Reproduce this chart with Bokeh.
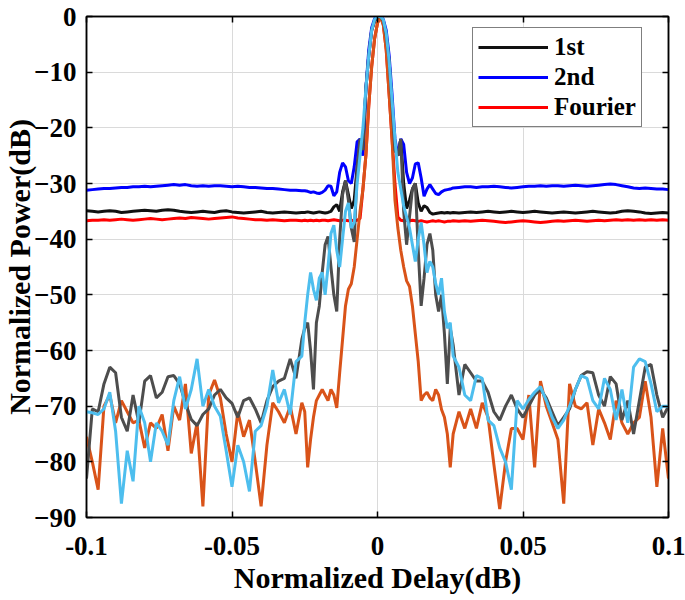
import numpy as np
from bokeh.plotting import figure
from bokeh.models import Range1d, FixedTicker, LinearAxis, Legend, LegendItem
from bokeh.embed import file_html
from bokeh.resources import INLINE

# Normalized delay grid: coarse on the flanks, 0.001 steps around the main lobe
delay = np.round(np.concatenate([
    np.arange(-0.100, -0.0259, 0.002),
    np.arange(-0.025, 0.0251, 0.001),
    np.arange(0.026, 0.1001, 0.002),
]), 3)

# ---- curves with a noise floor (shown in the legend) ----
first_floor = [
    -34.9, -35.0, -35.1, -35.0, -34.9, -35.0, -35.2, -35.1, -35.0, -34.9,
    -34.8, -34.9, -35.0, -34.8, -34.7, -34.8, -35.0, -35.1, -35.2, -35.1,
    -35.0, -35.1, -35.2, -35.0, -34.9, -35.1, -35.2, -35.3, -35.2, -35.1,
    -35.0, -35.2, -35.3, -35.2, -35.1, -35.2, -35.3, -35.2,
    -35.2, -35.1, -35.2, -35.3, -35.2, -35.1, -35.2, -35.3, -35.2, -35.0,
    -34.2, -33.8, -35.0, -31.5, -29.5, -32.0, -34.5, -33.0, -27.0, -22.0,
    -24.0, -13.0, -7.0, -2.5, -0.8,
    -0.1,
    0.0, -0.8, -3.5, -8.0, -16.0, -24.0, -25.0, -22.0, -30.0, -34.5,
    -33.0, -31.0, -30.0, -33.5, -35.0, -34.0, -34.3, -35.2, -35.5, -35.4,
    -35.3, -35.2, -35.3, -35.2, -35.3,
    -35.2, -35.3, -35.2, -35.1, -35.2, -35.1, -35.0, -35.1, -35.2, -35.1,
    -35.0, -35.1, -35.2, -35.1, -35.0, -35.1, -35.2, -35.3, -35.2, -35.1,
    -35.2, -35.3, -35.2, -35.1, -35.0, -35.1, -35.2, -35.3, -35.2, -35.0,
    -34.9, -35.0, -35.1, -35.3, -35.4, -35.3, -35.2, -35.3,
]

second_floor = [
    -31.2, -31.1, -31.0, -30.9, -30.9, -30.8, -30.7, -30.7, -30.6, -30.6,
    -30.5, -30.6, -30.5, -30.4, -30.3, -30.2, -30.3, -30.2, -30.4, -30.5,
    -30.4, -30.5, -30.4, -30.4, -30.5, -30.6, -30.5, -30.6, -30.7, -30.7,
    -30.8, -30.9, -30.9, -31.0, -31.1, -31.2, -31.2, -31.3,
    -31.3, -31.4, -31.6, -31.5, -31.7, -31.8, -31.6, -31.2, -30.4, -30.5,
    -32.2, -31.5, -28.0, -26.3, -27.0, -29.5, -30.0, -27.0, -22.5, -22.0,
    -25.0, -13.0, -6.0, -2.0, -0.4,
    0.0,
    0.0, -0.5, -2.5, -7.0, -14.0, -22.0, -25.0, -22.0, -23.0, -28.0,
    -30.0, -29.0, -26.5, -26.3, -29.0, -32.3, -31.0, -30.2, -31.0, -31.8,
    -32.0, -31.5, -31.2, -31.1, -31.0,
    -30.8, -30.7, -30.6, -30.6, -30.7, -30.6, -30.6, -30.5, -30.6, -30.7,
    -30.8, -30.7, -30.6, -30.5, -30.5, -30.4, -30.5, -30.4, -30.4, -30.5,
    -30.4, -30.3, -30.4, -30.5, -30.4, -30.3, -30.2, -30.1, -30.2, -30.4,
    -30.6, -30.8, -30.9, -30.8, -30.9, -31.0, -31.0, -31.1,
]

fourier_floor = [
    -36.7, -36.6, -36.6, -36.5, -36.6, -36.5, -36.4, -36.5, -36.6, -36.5,
    -36.4, -36.3, -36.4, -36.5, -36.4, -36.3, -36.2, -36.3, -36.1, -36.2,
    -36.3, -36.4, -36.3, -36.2, -36.1, -36.0, -36.2, -36.3, -36.4, -36.5,
    -36.5, -36.6, -36.5, -36.6, -36.7, -36.6, -36.6, -36.7,
    -36.6, -36.7, -36.6, -36.7, -36.6, -36.7, -36.6, -36.6, -36.7, -36.6,
    -36.5, -36.6, -36.7, -36.6, -36.6, -36.7, -36.6, -36.7, -36.6, -36.3,
    -31.0, -25.0, -16.0, -9.0, -4.0,
    -1.2,
    0.0, -1.5, -6.0, -14.0, -22.0, -30.0, -36.0, -36.6, -36.7, -36.6,
    -36.7, -36.6, -36.7, -36.8, -36.7, -36.8, -36.9, -36.8, -36.7, -36.8,
    -36.7, -36.8, -36.9, -36.8, -36.8,
    -36.7, -36.8, -36.7, -36.8, -36.7, -36.6, -36.7, -36.8, -36.9, -37.0,
    -36.9, -36.8, -36.7, -36.8, -36.9, -37.0, -36.9, -36.8, -36.7, -36.8,
    -36.7, -36.6, -36.7, -36.8, -36.7, -36.6, -36.7, -36.6, -36.5, -36.6,
    -36.5, -36.6, -36.5, -36.6, -36.5, -36.6, -36.5, -36.6,
]

# ---- noise-free curves with full sidelobe structure ----
first_sidelobes = [
    -83.0, -70.5, -71.0, -66.0, -63.0, -64.0, -72.0, -74.5, -68.0, -73.0,
    -65.5, -64.5, -68.5, -67.5, -64.7, -64.5, -66.0, -69.5, -72.4, -73.5,
    -71.5, -70.5, -68.0, -67.0, -68.5, -69.5, -72.0, -69.0, -68.5, -70.5,
    -73.0, -69.0, -66.5, -65.5, -65.0, -61.5, -65.0, -58.0,
    -56.0, -55.0, -60.0, -67.0, -55.0, -52.0, -46.0, -41.0, -39.5, -45.0,
    -50.0, -53.0, -40.0, -32.0, -29.5, -33.0, -38.0, -40.5, -27.0, -22.0,
    -24.0, -13.0, -7.0, -2.5, -0.8,
    -0.1,
    0.0, -0.8, -3.5, -8.0, -16.0, -24.0, -25.0, -22.0, -35.0, -41.0,
    -36.0, -31.0, -30.0, -42.0, -52.0, -47.0, -41.0, -39.0, -42.0, -50.0,
    -53.0, -50.0, -57.0, -66.0, -56.0,
    -59.0, -68.0, -62.5, -64.0, -65.5, -65.5, -67.5, -71.0, -72.5, -70.0,
    -68.0, -70.5, -72.0, -70.0, -68.0, -67.0, -68.5, -71.0, -73.5, -72.0,
    -70.5, -67.0, -64.5, -63.8, -64.0, -68.0, -70.0, -64.7, -66.0, -72.5,
    -69.0, -75.0, -69.0, -63.0, -62.5, -68.0, -72.0, -70.0,
]

second_sidelobes = [
    -71.0, -71.2, -71.5, -70.5, -67.5, -74.5, -87.5, -78.0, -83.5, -70.0,
    -73.0, -80.0, -73.0, -74.5, -77.0, -69.0, -64.7, -70.5, -67.0, -61.5,
    -70.0, -67.0, -70.0, -71.8, -78.0, -84.5, -77.0, -80.0, -85.3, -74.5,
    -73.5, -70.0, -63.5, -69.4, -67.0, -71.5, -62.0, -61.0,
    -55.0, -50.0, -46.0, -49.0, -51.0, -47.0, -46.0, -50.0, -45.0, -39.0,
    -37.5, -42.0, -45.0, -40.0, -35.0, -33.5, -38.0, -37.0, -30.0, -25.0,
    -20.0, -13.0, -7.0, -2.5, -0.5,
    0.0,
    0.0, -0.6, -3.0, -8.0, -15.0, -22.0, -28.0, -31.0, -34.0, -36.0,
    -38.0, -41.0, -44.0, -40.0, -37.0, -41.0, -46.0, -44.0, -45.0, -48.0,
    -50.0, -47.0, -53.0, -56.0, -55.0,
    -61.0, -63.0, -68.0, -69.0, -64.5, -65.0, -72.5, -73.5, -77.5, -80.0,
    -85.0, -69.0, -70.5, -68.8, -67.5, -66.5, -69.0, -72.0, -74.0, -72.5,
    -70.0, -67.0, -64.5, -65.0, -69.0, -70.5, -65.0, -67.0, -72.5, -67.0,
    -73.0, -63.0, -61.5, -62.0, -66.0, -71.0, -70.0, -70.0,
]

fourier_sidelobes = [
    -75.5, -80.0, -85.0, -70.0, -68.0, -73.0, -69.0, -71.0, -73.0, -72.5,
    -77.5, -73.0, -74.0, -71.5, -78.0, -70.0, -72.5, -66.0, -78.5, -73.0,
    -88.0, -68.0, -65.3, -68.5, -75.0, -80.0, -71.0, -75.5, -72.5, -80.0,
    -88.0, -77.0, -69.4, -71.0, -73.0, -70.0, -75.0, -69.4,
    -71.0, -81.0, -76.0, -72.0, -69.0, -68.0, -67.0, -68.0, -69.0, -67.0,
    -68.0, -70.3, -64.0, -58.0, -52.0, -49.0, -48.0, -45.0, -40.0, -35.0,
    -31.0, -25.0, -16.0, -9.0, -4.0,
    -1.2,
    0.0, -1.5, -6.0, -14.0, -22.0, -33.0, -38.0, -42.0, -45.0, -47.5,
    -48.5, -52.0, -57.0, -62.0, -69.0, -68.0, -67.5, -68.5, -69.0, -67.0,
    -68.0, -70.6, -72.0, -75.0, -81.0,
    -75.0, -71.0, -74.0, -70.5, -74.0, -69.4, -72.0, -80.5, -88.5, -80.0,
    -74.0, -74.0, -76.0, -68.0, -81.0, -65.5, -70.0, -73.0, -76.0, -87.5,
    -66.0, -70.0, -70.5, -69.4, -77.0, -70.5, -73.0, -76.0, -69.0, -73.0,
    -75.0, -73.0, -72.0, -65.5, -72.0, -84.5, -74.0, -83.0,
]

x_ticks = [-0.1, -0.05, 0.0, 0.05, 0.1]
x_tick_labels = ["-0.1", "-0.05", "0", "0.05", "0.1"]
y_ticks = [-90, -80, -70, -60, -50, -40, -30, -20, -10, 0]

for s in (first_floor, second_floor, fourier_floor,
          first_sidelobes, second_sidelobes, fourier_sidelobes):
    assert len(s) == len(delay)

SERIF = "Liberation Serif"
FRAME_TOP, FRAME_BOTTOM = 16, 517

p = figure(width=685, height=600,
           x_range=Range1d(-0.1, 0.1), y_range=Range1d(-90, 0),
           output_backend="svg", toolbar_location=None,
           min_border_left=83, min_border_right=17,
           min_border_top=FRAME_TOP, min_border_bottom=600 - FRAME_BOTTOM)
p.background_fill_color = "white"
p.border_fill_color = "white"
p.outline_line_color = "black"
p.outline_line_width = 1.5

# grid
p.xgrid.ticker = FixedTicker(ticks=x_ticks)
p.ygrid.ticker = FixedTicker(ticks=y_ticks)
for g in (p.xgrid, p.ygrid):
    g.grid_line_color = "#DADADA"
    g.grid_line_width = 1

# axes
xa = p.xaxis[0]
ya = p.yaxis[0]
xa.ticker = FixedTicker(ticks=x_ticks)
xa.major_label_overrides = {t: l for t, l in zip(x_ticks, x_tick_labels)}
ya.ticker = FixedTicker(ticks=y_ticks)
xa.axis_label = "Normalized Delay(dB)"
ya.axis_label = "Normalized Power(dB)"
for ax in (xa, ya):
    ax.axis_line_color = "black"
    ax.axis_line_width = 1.5
    ax.major_tick_in = 6
    ax.major_tick_out = 0
    ax.major_tick_line_width = 1.5
    ax.minor_tick_line_color = None
    ax.major_label_text_font = SERIF
    ax.major_label_text_font_style = "bold"
    ax.major_label_text_font_size = "27px"
    ax.major_label_text_color = "black"
    ax.axis_label_text_font = SERIF
    ax.axis_label_text_font_style = "bold"
    ax.axis_label_text_font_size = "30px"
    ax.axis_label_text_color = "black"
xa.major_label_standoff = 19
xa.axis_label_standoff = 3
ya.major_label_standoff = 10
ya.axis_label_standoff = -5

# tick marks on the top and right edges of the box
for loc, ticks in (("above", x_ticks), ("right", y_ticks)):
    ax = LinearAxis(ticker=FixedTicker(ticks=ticks),
                    major_label_overrides={t: "" for t in ticks},
                    major_label_text_font_size="1px",
                    major_label_standoff=0,
                    major_tick_in=6, major_tick_out=0,
                    major_tick_line_width=1.5,
                    minor_tick_line_color=None,
                    axis_line_width=1.5)
    p.add_layout(ax, loc)

W = 3
r_first = p.line(delay, first_floor, line_color="#111111", line_width=W)
r_second = p.line(delay, second_floor, line_color="#0000FF", line_width=W)
r_fourier = p.line(delay, fourier_floor, line_color="#FF0000", line_width=W)
p.line(delay, fourier_sidelobes, line_color="#D95319", line_width=W)
p.line(delay, first_sidelobes, line_color="#4D4D4D", line_width=W)
p.line(delay, second_sidelobes, line_color="#4DBEEE", line_width=W)

# legend position: left edge and bottom edge measured from the frame corner
legend = Legend(items=[
    LegendItem(label="1st", renderers=[r_first]),
    LegendItem(label="2nd", renderers=[r_second]),
    LegendItem(label="Fourier", renderers=[r_fourier]),
], location=(386, FRAME_BOTTOM - 127))
legend.padding = 5
legend.spacing = 2
legend.glyph_width = 70
legend.glyph_height = 24
legend.label_height = 24
legend.label_standoff = 6
legend.label_text_font = SERIF
legend.label_text_font_style = "bold"
legend.label_text_font_size = "25px"
legend.label_text_color = "black"
legend.border_line_color = "black"
legend.border_line_width = 1.5
legend.background_fill_color = "white"
legend.background_fill_alpha = 1.0
p.add_layout(legend)

open("out.html", "w").write(file_html(p, INLINE))
